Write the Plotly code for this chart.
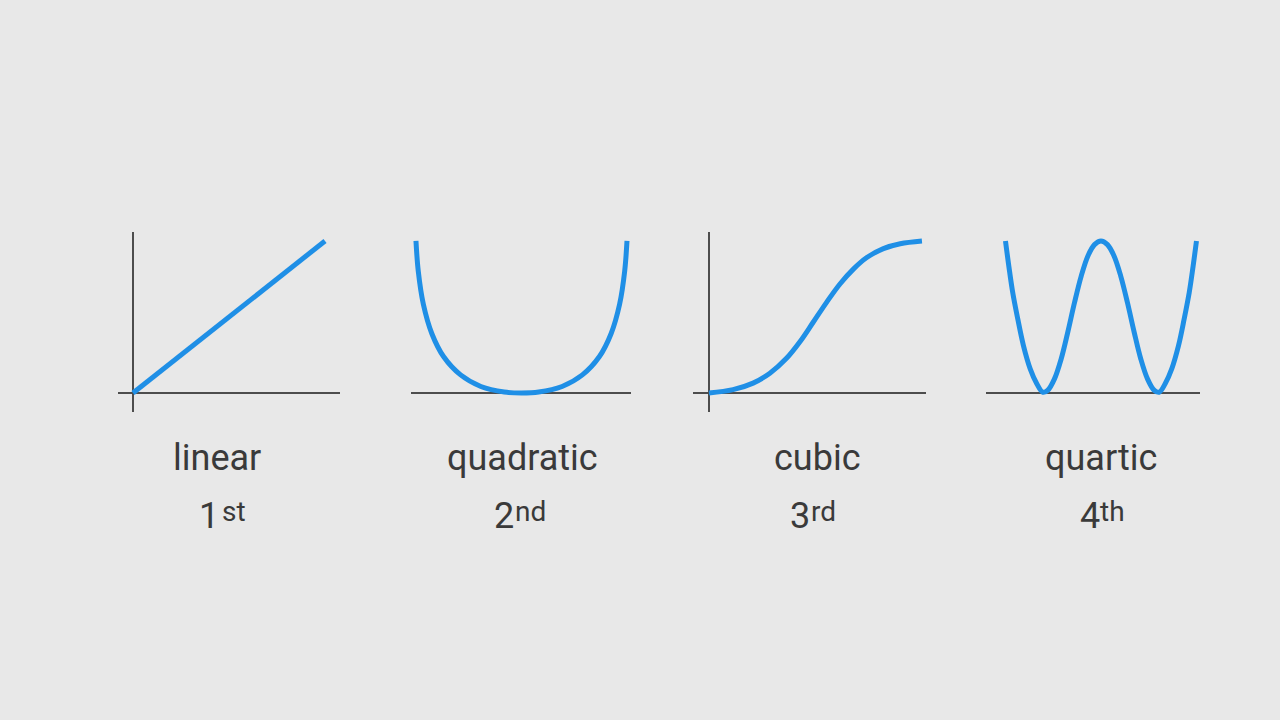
import plotly.graph_objects as go

# curve samples (each panel in its own units)
names = ['linear', 'quadratic', 'cubic', 'quartic']
order_num = ['1', '2', '3', '4']
order_suffix = ['st', 'nd', 'rd', 'th']

linear_x = [0.0, 1.0]
linear_y = [0.0, 1.0]

quad_x = [-1.0, -0.978, -0.93, -0.849, -0.737, -0.577, -0.385, -0.163, 0.0,
          0.163, 0.385, 0.577, 0.737, 0.849, 0.93, 0.978, 1.0]
quad_y = [1.0, 0.801, 0.584, 0.39, 0.238, 0.119, 0.043, 0.006, 0.0,
          0.006, 0.043, 0.119, 0.238, 0.39, 0.584, 0.801, 1.0]

cubic_x = [0.0, 0.113, 0.207, 0.286, 0.364, 0.427, 0.49, 0.553, 0.615,
           0.678, 0.741, 0.819, 0.898, 1.0]
cubic_y = [0.0, 0.022, 0.065, 0.13, 0.228, 0.337, 0.467, 0.598, 0.717,
           0.815, 0.891, 0.95, 0.982, 1.0]

quart_x = [-1.0, -0.965, -0.924, -0.871, -0.812, -0.741, -0.672, -0.609,
           -0.557, -0.487, -0.417, -0.348, -0.277, -0.207, -0.138, -0.068, 0.0,
           0.068, 0.138, 0.207, 0.277, 0.348, 0.417, 0.487, 0.557,
           0.609, 0.672, 0.741, 0.812, 0.871, 0.924, 0.965, 1.0]
quart_y = [1.0, 0.835, 0.66, 0.486, 0.312, 0.159, 0.061, 0.005,
           0.018, 0.093, 0.224, 0.399, 0.595, 0.769, 0.9, 0.976, 1.0,
           0.976, 0.9, 0.769, 0.595, 0.399, 0.224, 0.093, 0.018,
           0.005, 0.061, 0.159, 0.312, 0.486, 0.66, 0.835, 1.0]

curves = [(linear_x, linear_y), (quad_x, quad_y), (cubic_x, cubic_y), (quart_x, quart_y)]

W, H = 1280, 720
BLUE = '#1f8fe6'
AXIS = '#4d4d4d'
TEXT = '#3a3a3a'
FONT = 'Roboto'

# panel boxes in pixels and data ranges
x_px = [(118, 340), (411, 631), (693, 926), (986, 1200)]
x_rng = [(-0.078, 1.078), (-1.047, 1.038), (-0.075, 1.019), (-1.204, 1.037)]
show_vaxis = [True, False, True, False]
y_px = (232, 412)
y_rng = (-0.125, 1.059)

name_pos = [217, 522, 817, 1101]
num_right = [220, 515, 811, 1101]
suffix_left = [221, 514, 810, 1099]

fig = go.Figure()
layout = {}
for i, (cx, cy) in enumerate(curves):
    n = '' if i == 0 else str(i + 1)
    fig.add_trace(go.Scatter(
        x=cx, y=cy, mode='lines',
        line=dict(color=BLUE, width=5, shape='linear' if i == 0 else 'spline', smoothing=1.0),
        xaxis='x' + n, yaxis='y' + n, showlegend=False, hoverinfo='skip'))
    layout['xaxis' + n] = dict(
        domain=[x_px[i][0] / W, x_px[i][1] / W], range=list(x_rng[i]),
        anchor='y' + n, showgrid=False, showticklabels=False, ticks='',
        zeroline=show_vaxis[i], zerolinecolor=AXIS, zerolinewidth=2, fixedrange=True)
    layout['yaxis' + n] = dict(
        domain=[1 - y_px[1] / H, 1 - y_px[0] / H], range=list(y_rng),
        anchor='x' + n, showgrid=False, showticklabels=False, ticks='',
        zeroline=True, zerolinecolor=AXIS, zerolinewidth=2, fixedrange=True)

annotations = []
for i in range(4):
    annotations.append(dict(text=names[i], x=name_pos[i] / W, y=1 - 458 / H,
                            xref='paper', yref='paper', showarrow=False,
                            xanchor='center', yanchor='middle', borderpad=0,
                            font=dict(size=36, color=TEXT, family=FONT)))
    annotations.append(dict(text=order_num[i], x=num_right[i] / W, y=1 - 516 / H,
                            xref='paper', yref='paper', showarrow=False,
                            xanchor='right', yanchor='middle', borderpad=0,
                            font=dict(size=36, color=TEXT, family=FONT)))
    annotations.append(dict(text=order_suffix[i], x=suffix_left[i] / W, y=1 - 511 / H,
                            xref='paper', yref='paper', showarrow=False,
                            xanchor='left', yanchor='middle', borderpad=0,
                            font=dict(size=28, color=TEXT, family=FONT)))

fig.update_layout(
    width=W, height=H,
    margin=dict(l=0, r=0, t=0, b=0),
    paper_bgcolor='#e8e8e8', plot_bgcolor='rgba(0,0,0,0)',
    annotations=annotations,
    **layout)

fig.write_html("out.html", config={'displayModeBar': False},
               post_script="document.body.style.margin='0';")
